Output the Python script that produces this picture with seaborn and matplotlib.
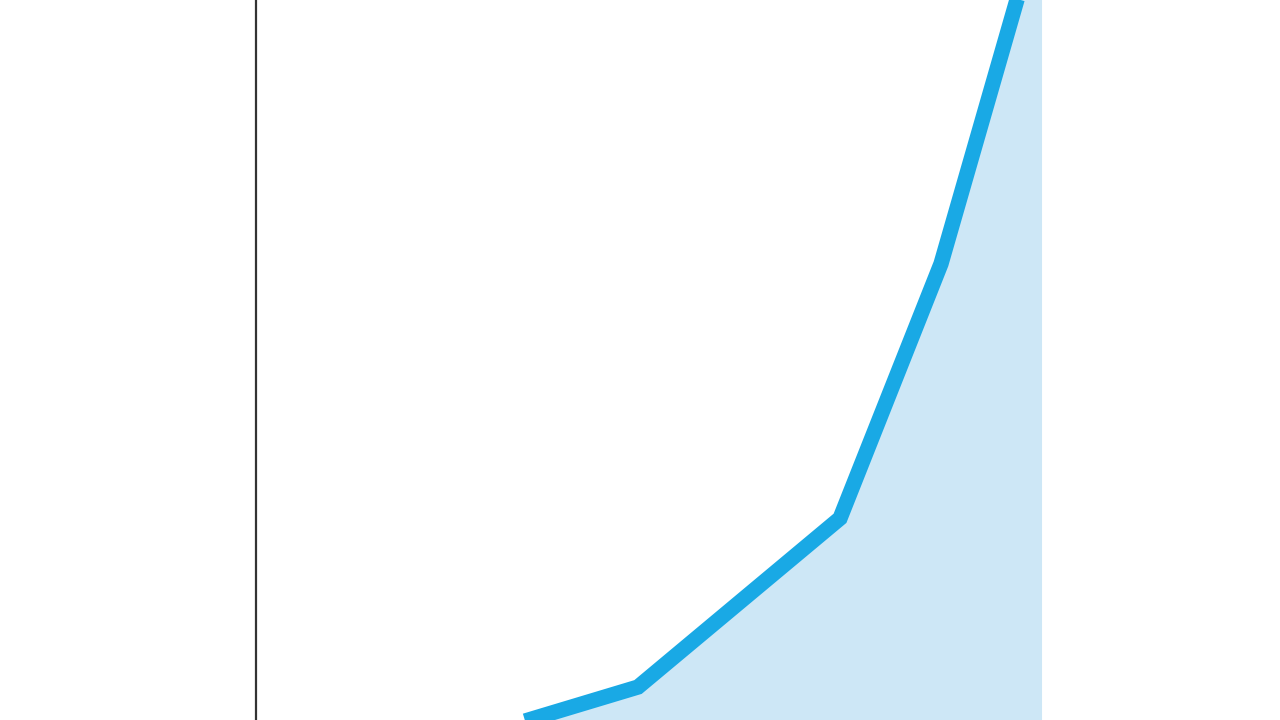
import matplotlib
matplotlib.use("Agg")
import matplotlib.pyplot as plt
import seaborn as sns
import pandas as pd

years = [1990, 2000, 2010, 2015, 2020]
values = [1.6, 9.6, 31.8, 65.3, 111.5]

sns.set_theme(style="white")
df = pd.DataFrame({"year": years, "value": values})

fig = plt.figure(figsize=(12.8, 7.2), dpi=100)
ax = fig.add_axes([256 / 1280, 0, 1 - 256 / 1280, 1])
ax.fill_between(df["year"], df["value"], 0, color="#cde7f6", linewidth=0)
sns.lineplot(data=df, x="year", y="value", ax=ax, color="#19a9e5",
             linewidth=11, solid_joinstyle="miter", solid_capstyle="butt")
ax.set_xlim(1981.09, 2031.78)
ax.set_ylim(5.26, 100)
for s in ["top", "right", "bottom"]:
    ax.spines[s].set_visible(False)
ax.spines["left"].set_color("#333333")
ax.spines["left"].set_linewidth(1.6)
ax.set_xticks([])
ax.set_yticks([])
ax.set_xlabel("")
ax.set_ylabel("")
fig.savefig("out.png", dpi=100)
